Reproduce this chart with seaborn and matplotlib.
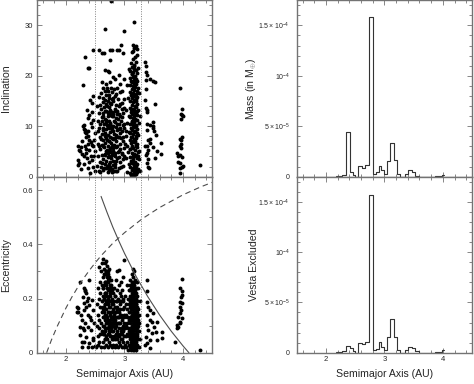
import numpy as np
import pandas as pd
import seaborn as sns
import matplotlib.pyplot as plt
from matplotlib.ticker import MultipleLocator, FixedLocator, FixedFormatter

sns.set_style('ticks')
plt.rcParams['font.family'] = ['Liberation Sans', 'DejaVu Sans']
plt.rcParams['mathtext.fontset'] = 'custom'
plt.rcParams['mathtext.rm'] = 'Liberation Sans'
plt.rcParams['mathtext.it'] = 'Liberation Sans:italic'

# ---- inclination vs semimajor axis (a [AU], i [deg]) ----
incl_points = [
    # inner group 2.2 - 2.5
    (2.20, 6.0), (2.21, 3.3), (2.20, 2.3), (2.22, 5.2), (2.24, 5.0), (2.26, 5.8), (2.27, 4.4),
    (2.29, 10.0), (2.30, 9.4), (2.31, 10.3), (2.30, 4.0), (2.32, 8.9), (2.33, 9.3), (2.33, 6.0),
    (2.34, 4.6), (2.34, 8.6), (2.35, 7.9), (2.36, 13.3), (2.37, 11.6), (2.37, 9.0), (2.37, 6.5),
    (2.38, 8.0), (2.38, 1.7), (2.39, 3.0), (2.40, 7.3), (2.40, 5.3), (2.41, 15.3), (2.41, 0.7),
    (2.42, 4.0), (2.43, 6.9), (2.44, 14.6), (2.44, 3.3), (2.44, 6.3), (2.45, 9.8), (2.46, 2.0),
    (2.46, 11.2), (2.47, 15.9), (2.47, 6.0), (2.48, 7.3), (2.48, 4.0), (2.49, 1.2), (2.50, 8.6),
    (2.50, 5.0), (2.29, 18.1), (2.33, 23.7), (2.37, 21.6), (2.40, 21.6), (2.47, 25.2), (2.23, 2.8),
    (2.25, 1.5), (2.28, 7.0), (2.31, 2.5), (2.36, 3.6), (2.42, 10.6), (2.45, 12.8), (2.39, 12.2),
    (2.35, 5.5),
    # 2.52 - 2.63
    (2.53, 14.0), (2.54, 11.0), (2.55, 9.0), (2.54, 6.5), (2.55, 4.0), (2.53, 2.2), (2.56, 1.2),
    (2.56, 15.8), (2.57, 25.2), (2.57, 12.6), (2.58, 7.8), (2.58, 3.0), (2.59, 10.4), (2.59, 5.5),
    (2.60, 16.5), (2.60, 13.5), (2.60, 2.0), (2.61, 8.5), (2.61, 6.2), (2.62, 24.6), (2.62, 11.8),
    (2.62, 4.3), (2.63, 14.8), (2.63, 9.6), (2.63, 1.4),
    # 2.64 - 2.80
    (2.64, 17.5), (2.64, 12.0), (2.64, 7.3), (2.64, 3.5), (2.65, 24.6), (2.65, 10.5), (2.65, 5.8),
    (2.66, 21.2), (2.66, 15.2), (2.66, 8.6), (2.66, 2.5), (2.67, 29.2), (2.67, 13.0), (2.67, 6.6),
    (2.67, 4.4), (2.68, 18.3), (2.68, 11.2), (2.68, 9.4), (2.68, 1.8), (2.69, 16.2), (2.69, 7.7),
    (2.69, 3.2), (2.70, 14.0), (2.70, 10.2), (2.70, 5.2), (2.71, 20.9), (2.71, 12.6), (2.71, 8.2),
    (2.71, 2.2), (2.72, 17.0), (2.72, 9.8), (2.72, 6.0), (2.72, 3.8), (2.73, 13.8), (2.73, 11.0),
    (2.73, 4.8), (2.74, 20.7), (2.74, 15.6), (2.74, 7.0), (2.74, 1.3), (2.75, 25.2), (2.75, 23.2),
    (2.75, 12.2), (2.75, 8.8), (2.75, 5.6), (2.76, 18.8), (2.76, 10.6), (2.76, 3.0), (2.77, 34.8),
    (2.77, 14.5), (2.77, 6.6), (2.78, 25.2), (2.78, 16.8), (2.78, 9.2), (2.78, 4.2), (2.79, 12.8),
    (2.79, 7.6), (2.79, 1.6), (2.80, 15.0), (2.80, 10.0), (2.80, 5.0),
    # 2.81 - 3.00
    (2.81, 19.8), (2.81, 12.0), (2.81, 3.2), (2.82, 8.4), (2.82, 6.2), (2.83, 16.0), (2.83, 13.4),
    (2.83, 2.0), (2.84, 19.3), (2.84, 10.8), (2.84, 4.6), (2.85, 7.0), (2.85, 1.2), (2.86, 14.2),
    (2.86, 11.6), (2.86, 5.8), (2.87, 25.1), (2.87, 17.6), (2.87, 9.2), (2.88, 3.6), (2.88, 13.0),
    (2.89, 7.8), (2.89, 15.4), (2.90, 20.2), (2.90, 10.4), (2.90, 5.0), (2.91, 25.1), (2.91, 12.4),
    (2.91, 1.8), (2.92, 8.6), (2.92, 16.8), (2.93, 18.4), (2.93, 6.4), (2.93, 3.0), (2.94, 26.2),
    (2.94, 11.0), (2.95, 14.6), (2.95, 4.4), (2.96, 9.0), (2.96, 17.0), (2.97, 7.0), (2.97, 2.2),
    (2.98, 24.6), (2.98, 12.6), (2.99, 19.4), (2.99, 5.6), (3.00, 28.8), (3.00, 10.4), (3.00, 15.4),
    # 3.01 - 3.08
    (3.02, 8.0), (3.02, 3.6), (3.03, 13.2), (3.04, 18.2), (3.04, 6.0), (3.05, 10.6), (3.05, 1.0),
    (3.06, 15.6), (3.06, 4.8), (3.07, 8.8), (3.07, 21.4), (3.08, 12.0), (3.08, 2.6),
    # dense core 3.09 - 3.24
    (3.09, 0.8), (3.09, 3.8), (3.09, 7.2), (3.09, 10.4), (3.09, 13.6), (3.09, 16.8), (3.09, 19.6),
    (3.10, 2.0), (3.10, 5.4), (3.10, 8.6), (3.10, 11.8), (3.10, 15.0), (3.10, 18.2), (3.10, 21.0),
    (3.11, 0.4), (3.11, 3.2), (3.11, 6.6), (3.11, 9.6), (3.11, 12.8), (3.11, 16.2), (3.11, 19.0),
    (3.11, 22.6), (3.12, 1.4), (3.12, 4.6), (3.12, 7.8), (3.12, 11.0), (3.12, 14.2), (3.12, 17.4),
    (3.12, 20.4), (3.12, 24.8), (3.13, 0.2), (3.13, 2.8), (3.13, 6.0), (3.13, 9.2), (3.13, 12.4),
    (3.13, 15.6), (3.13, 18.8), (3.13, 21.8), (3.14, 1.8), (3.14, 4.0), (3.14, 7.0), (3.14, 10.2),
    (3.14, 13.4), (3.14, 16.6), (3.14, 19.8), (3.14, 23.4), (3.14, 26.2), (3.15, 0.6), (3.15, 3.4),
    (3.15, 5.6), (3.15, 8.4), (3.15, 11.6), (3.15, 14.8), (3.15, 18.0), (3.15, 20.8), (3.15, 25.0),
    (3.16, 1.0), (3.16, 2.4), (3.16, 6.8), (3.16, 9.8), (3.16, 12.0), (3.16, 15.2), (3.16, 17.2),
    (3.16, 19.2), (3.16, 22.2), (3.17, 0.3), (3.17, 4.4), (3.17, 7.4), (3.17, 8.8), (3.17, 10.8),
    (3.17, 13.0), (3.17, 16.0), (3.17, 18.6), (3.17, 21.4), (3.17, 25.6), (3.17, 30.7),
    (3.18, 1.6), (3.18, 3.0), (3.18, 5.2), (3.18, 9.0), (3.18, 11.4), (3.18, 14.0), (3.18, 17.8),
    (3.18, 20.0), (3.18, 23.8), (3.19, 0.5), (3.19, 2.2), (3.19, 6.2), (3.19, 8.0), (3.19, 12.6),
    (3.19, 15.4), (3.19, 19.4), (3.19, 21.2), (3.19, 26.0), (3.20, 1.2), (3.20, 4.2), (3.20, 7.6),
    (3.20, 10.0), (3.20, 13.8), (3.20, 16.4), (3.20, 18.4), (3.20, 22.8), (3.21, 0.9), (3.21, 3.6),
    (3.21, 5.8), (3.21, 11.2), (3.21, 14.4), (3.21, 17.0), (3.21, 20.6), (3.21, 24.2), (3.22, 2.6),
    (3.22, 6.4), (3.22, 9.4), (3.22, 12.2), (3.22, 15.8), (3.22, 19.0), (3.22, 25.4), (3.23, 1.5),
    (3.23, 4.8), (3.23, 8.2), (3.23, 13.2), (3.23, 21.6), (3.24, 3.4), (3.24, 10.6), (3.24, 16.6),
    (3.25, 5.0), (3.26, 12.0), (3.26, 1.2),
    # outer group 3.33 - 3.65
    (3.35, 22.7), (3.36, 21.9), (3.37, 20.7), (3.38, 20.2), (3.36, 19.1), (3.43, 19.3), (3.49, 19.0),
    (3.52, 18.7), (3.36, 17.3), (3.35, 15.2), (3.36, 13.6), (3.38, 13.3), (3.38, 12.8), (3.52, 14.4),
    (3.38, 10.5), (3.43, 10.3), (3.48, 10.1), (3.49, 10.8), (3.48, 9.6), (3.38, 9.3), (3.53, 8.3),
    (3.44, 7.5), (3.35, 6.0), (3.38, 6.1), (3.48, 5.8), (3.40, 5.2), (3.38, 4.6), (3.37, 4.3),
    (3.62, 6.6), (3.63, 4.4), (3.52, 3.7), (3.40, 3.4), (3.38, 2.8), (3.40, 2.0), (3.42, 1.7),
    (3.41, 7.3), (3.44, 6.6), (3.50, 9.0), (3.55, 5.0),
    # Hilda group ~3.95
    (3.95, 17.6), (3.98, 13.4), (3.96, 12.5), (3.99, 12.3), (4.00, 12.0), (3.96, 11.5), (3.98, 7.8),
    (3.95, 7.5), (3.97, 7.2), (3.96, 6.5), (3.94, 6.1), (3.97, 5.6), (3.89, 4.6), (3.91, 4.0),
    (3.95, 4.3), (3.98, 3.9), (3.91, 2.9), (3.95, 2.7), (3.98, 2.0), (3.95, 1.7), (4.00, 2.2),
    (3.94, 0.8), (4.29, 2.3),
]

# more inclination points filling the crowded 2.55 - 3.25 AU region
incl_crowd = [
    (2.56, 6.0), (2.57, 9.6), (2.58, 14.2), (2.59, 1.0), (2.60, 7.4), (2.61, 11.0), (2.61, 18.8),
    (2.62, 2.8), (2.63, 6.0), (2.63, 12.6), (2.64, 9.2), (2.64, 15.6), (2.65, 1.8), (2.65, 13.8),
    (2.66, 4.2), (2.66, 11.4), (2.67, 8.0), (2.67, 17.0), (2.68, 5.0), (2.68, 14.4), (2.69, 10.8),
    (2.69, 13.0), (2.70, 2.0), (2.70, 7.2), (2.70, 17.6), (2.71, 4.6), (2.71, 10.0), (2.71, 15.0),
    (2.72, 12.0), (2.72, 1.0), (2.73, 7.0), (2.73, 16.2), (2.73, 2.6), (2.74, 9.6), (2.74, 12.8),
    (2.74, 4.0), (2.75, 10.4), (2.75, 14.6), (2.75, 2.0), (2.76, 5.0), (2.76, 7.8), (2.76, 13.2),
    (2.77, 3.6), (2.77, 10.0), (2.77, 17.6), (2.78, 6.0), (2.78, 12.0), (2.78, 1.0), (2.79, 9.6),
    (2.79, 4.6), (2.79, 15.4), (2.80, 2.4), (2.80, 7.4), (2.80, 12.4), (2.81, 5.6), (2.81, 9.0),
    (2.81, 15.6), (2.82, 1.2), (2.82, 11.0), (2.82, 17.4), (2.83, 4.0), (2.83, 7.6), (2.84, 13.0),
    (2.84, 2.6), (2.85, 9.8), (2.85, 16.4), (2.86, 3.2), (2.86, 8.2), (2.87, 6.0), (2.87, 12.4),
    (2.88, 10.4), (2.88, 1.2), (2.89, 4.8), (2.89, 11.4), (2.90, 7.8), (2.90, 14.0), (2.91, 3.8),
    (2.91, 9.4), (2.92, 5.4), (2.92, 12.0), (2.93, 9.6), (2.93, 14.4), (2.94, 2.0), (2.94, 7.6),
    (2.95, 11.8), (2.96, 4.6), (2.96, 13.4), (2.97, 10.2), (2.98, 3.4), (2.98, 7.8), (2.99, 9.6),
    (2.99, 13.6), (3.00, 4.0), (3.01, 6.4), (3.03, 9.0),
    (3.095, 5.5), (3.105, 13.4), (3.115, 7.9), (3.125, 16.0), (3.135, 10.8), (3.145, 3.0),
    (3.155, 13.2), (3.165, 4.0), (3.165, 11.0), (3.175, 2.0), (3.175, 15.0), (3.185, 7.0),
    (3.185, 12.6), (3.195, 4.0), (3.195, 10.2), (3.205, 6.0), (3.205, 15.0), (3.215, 8.6),
    (3.215, 13.0), (3.225, 4.0), (3.225, 17.6), (3.135, 20.4), (3.155, 22.0), (3.185, 19.0),
    (3.165, 18.2),
]

# ---- eccentricity vs semimajor axis ----
ecc_points = [
    # inner group
    (2.30, 0.238), (2.33, 0.226), (2.35, 0.220), (2.29, 0.207), (2.38, 0.201), (2.31, 0.183),
    (2.34, 0.170), (2.40, 0.176), (2.30, 0.158), (2.21, 0.164), (2.19, 0.152), (2.37, 0.140),
    (2.41, 0.133), (2.27, 0.121), (2.33, 0.109), (2.38, 0.096), (2.30, 0.084), (2.42, 0.084),
    (2.24, 0.065), (2.35, 0.059), (2.46, 0.053), (2.31, 0.041), (2.40, 0.034), (2.27, 0.020),
    (2.44, 0.022), (2.47, 0.047), (2.48, 0.109), (2.47, 0.158), (2.44, 0.195), (2.195, 0.170),
    (2.21, 0.152), (2.24, 0.096), (2.27, 0.041), (2.37, 0.022), (2.50, 0.025), (2.24, 0.26),
    (2.40, 0.27), (2.33, 0.23), (2.36, 0.19), (2.26, 0.14), (2.43, 0.12), (2.29, 0.09),
    # 2.52 - 2.62
    (2.52, 0.02), (2.53, 0.10), (2.53, 0.18), (2.54, 0.06), (2.54, 0.24), (2.55, 0.14), (2.55, 0.03),
    (2.56, 0.20), (2.56, 0.09), (2.57, 0.315), (2.57, 0.12), (2.57, 0.04), (2.58, 0.26), (2.58, 0.17),
    (2.59, 0.07), (2.59, 0.22), (2.60, 0.30), (2.60, 0.11), (2.60, 0.02), (2.61, 0.19), (2.61, 0.15),
    (2.62, 0.33), (2.62, 0.08), (2.62, 0.25),
    # 2.63 - 2.80
    (2.63, 0.04), (2.63, 0.13), (2.63, 0.21), (2.63, 0.28), (2.64, 0.07), (2.64, 0.17), (2.64, 0.24),
    (2.64, 0.345), (2.65, 0.02), (2.65, 0.10), (2.65, 0.15), (2.65, 0.20), (2.65, 0.31), (2.66, 0.05),
    (2.66, 0.12), (2.66, 0.18), (2.66, 0.26), (2.66, 0.33), (2.67, 0.08), (2.67, 0.14), (2.67, 0.22),
    (2.67, 0.29), (2.68, 0.03), (2.68, 0.11), (2.68, 0.19), (2.68, 0.25), (2.68, 0.34), (2.69, 0.06),
    (2.69, 0.16), (2.69, 0.21), (2.69, 0.30), (2.70, 0.09), (2.70, 0.13), (2.70, 0.24), (2.70, 0.32),
    (2.71, 0.02), (2.71, 0.12), (2.71, 0.18), (2.71, 0.27), (2.72, 0.07), (2.72, 0.15), (2.72, 0.20),
    (2.72, 0.29), (2.72, 0.26), (2.73, 0.04), (2.73, 0.10), (2.73, 0.23), (2.73, 0.31), (2.74, 0.08),
    (2.74, 0.17), (2.74, 0.21), (2.74, 0.28), (2.75, 0.03), (2.75, 0.12), (2.75, 0.14), (2.75, 0.25),
    (2.76, 0.06), (2.76, 0.10), (2.76, 0.19), (2.76, 0.22), (2.76, 0.08), (2.77, 0.09), (2.77, 0.15),
    (2.77, 0.23), (2.77, 0.27), (2.78, 0.02), (2.78, 0.11), (2.78, 0.18), (2.78, 0.24), (2.79, 0.05),
    (2.79, 0.13), (2.79, 0.20), (2.80, 0.08), (2.80, 0.16), (2.80, 0.22), (2.80, 0.12),
    # 2.81 - 3.00
    (2.81, 0.03), (2.81, 0.10), (2.81, 0.19), (2.82, 0.06), (2.82, 0.14), (2.82, 0.24), (2.83, 0.09),
    (2.83, 0.17), (2.83, 0.02), (2.84, 0.12), (2.84, 0.21), (2.84, 0.05), (2.85, 0.07), (2.85, 0.15),
    (2.85, 0.27), (2.86, 0.10), (2.86, 0.19), (2.86, 0.03), (2.87, 0.05), (2.87, 0.13), (2.87, 0.23),
    (2.88, 0.08), (2.88, 0.17), (2.88, 0.30), (2.89, 0.02), (2.89, 0.11), (2.89, 0.20), (2.90, 0.06),
    (2.90, 0.15), (2.90, 0.306), (2.90, 0.25), (2.91, 0.09), (2.91, 0.13), (2.91, 0.04), (2.92, 0.18),
    (2.92, 0.07), (2.92, 0.22), (2.93, 0.11), (2.93, 0.03), (2.93, 0.16), (2.94, 0.05), (2.94, 0.14),
    (2.94, 0.26), (2.95, 0.09), (2.95, 0.19), (2.95, 0.02), (2.96, 0.12), (2.96, 0.07), (2.96, 0.23),
    (2.97, 0.04), (2.97, 0.16), (2.97, 0.10), (2.98, 0.08), (2.98, 0.20), (2.98, 0.28), (2.99, 0.343),
    (2.99, 0.13), (2.99, 0.02), (3.00, 0.06), (3.00, 0.11), (3.00, 0.17),
    # 3.01 - 3.08
    (3.01, 0.09), (3.01, 0.03), (3.01, 0.21), (3.02, 0.14), (3.02, 0.06), (3.03, 0.18), (3.03, 0.10),
    (3.03, 0.02), (3.04, 0.07), (3.04, 0.25), (3.04, 0.13), (3.05, 0.04), (3.05, 0.16), (3.05, 0.11),
    (3.06, 0.09), (3.06, 0.20), (3.06, 0.01), (3.07, 0.12), (3.07, 0.06), (3.07, 0.23), (3.08, 0.03),
    (3.08, 0.15), (3.08, 0.18), (3.08, 0.08),
    # dense core 3.09 - 3.24
    (3.09, 0.02), (3.09, 0.05), (3.09, 0.09), (3.09, 0.13), (3.09, 0.17), (3.09, 0.21), (3.09, 0.25),
    (3.10, 0.03), (3.10, 0.07), (3.10, 0.11), (3.10, 0.15), (3.10, 0.19), (3.10, 0.23), (3.10, 0.27),
    (3.11, 0.01), (3.11, 0.04), (3.11, 0.08), (3.11, 0.12), (3.11, 0.16), (3.11, 0.20), (3.11, 0.24),
    (3.12, 0.02), (3.12, 0.06), (3.12, 0.10), (3.12, 0.14), (3.12, 0.18), (3.12, 0.22), (3.12, 0.26),
    (3.12, 0.29), (3.13, 0.03), (3.13, 0.05), (3.13, 0.09), (3.13, 0.13), (3.13, 0.17), (3.13, 0.21),
    (3.13, 0.25), (3.14, 0.01), (3.14, 0.04), (3.14, 0.07), (3.14, 0.11), (3.14, 0.15), (3.14, 0.19),
    (3.14, 0.23), (3.14, 0.28), (3.15, 0.02), (3.15, 0.06), (3.15, 0.08), (3.15, 0.12), (3.15, 0.16),
    (3.15, 0.20), (3.15, 0.24), (3.15, 0.31), (3.16, 0.03), (3.16, 0.05), (3.16, 0.10), (3.16, 0.14),
    (3.16, 0.18), (3.16, 0.22), (3.16, 0.26), (3.17, 0.01), (3.17, 0.04), (3.17, 0.07), (3.17, 0.09),
    (3.17, 0.13), (3.17, 0.17), (3.17, 0.21), (3.17, 0.25), (3.17, 0.30), (3.18, 0.02), (3.18, 0.06),
    (3.18, 0.11), (3.18, 0.15), (3.18, 0.19), (3.18, 0.23), (3.18, 0.27), (3.19, 0.03), (3.19, 0.05),
    (3.19, 0.08), (3.19, 0.12), (3.19, 0.16), (3.19, 0.20), (3.19, 0.24), (3.20, 0.01), (3.20, 0.04),
    (3.20, 0.10), (3.20, 0.14), (3.20, 0.18), (3.20, 0.22), (3.21, 0.02), (3.21, 0.07), (3.21, 0.11),
    (3.21, 0.15), (3.21, 0.19), (3.21, 0.26), (3.22, 0.03), (3.22, 0.06), (3.22, 0.09), (3.22, 0.13),
    (3.22, 0.17), (3.22, 0.21), (3.23, 0.05), (3.23, 0.12), (3.23, 0.16), (3.23, 0.24), (3.24, 0.02),
    (3.24, 0.08), (3.24, 0.14), (3.25, 0.11), (3.26, 0.05), (3.27, 0.19),
    # outer group
    (3.39, 0.268), (3.39, 0.226), (3.39, 0.189), (3.41, 0.170), (3.44, 0.158), (3.49, 0.146),
    (3.39, 0.140), (3.43, 0.121), (3.47, 0.115), (3.55, 0.115), (3.38, 0.102), (3.51, 0.096),
    (3.41, 0.084), (3.47, 0.072), (3.54, 0.078), (3.64, 0.078), (3.37, 0.059), (3.43, 0.047),
    (3.55, 0.047), (3.64, 0.053), (3.39, 0.034), (3.44, 0.016), (3.35, 0.028),
    # Hilda group
    (3.98, 0.271), (3.94, 0.238), (3.98, 0.226), (3.99, 0.214), (3.96, 0.207), (3.95, 0.189),
    (3.98, 0.183), (3.94, 0.170), (3.96, 0.158), (3.95, 0.146), (3.92, 0.131), (3.98, 0.128),
    (3.94, 0.115), (3.90, 0.102), (3.89, 0.090), (3.92, 0.096), (3.95, 0.109), (3.86, 0.041),
    (4.29, 0.010),
]

# more eccentricity points filling the crowded regions
ecc_crowd = [
    (2.625, 0.16), (2.635, 0.10), (2.635, 0.24), (2.645, 0.13), (2.645, 0.20), (2.645, 0.29),
    (2.655, 0.07), (2.655, 0.17), (2.655, 0.25), (2.665, 0.09), (2.665, 0.22), (2.665, 0.29),
    (2.675, 0.05), (2.675, 0.18), (2.675, 0.26), (2.685, 0.14), (2.685, 0.22), (2.685, 0.30),
    (2.695, 0.11), (2.695, 0.26), (2.705, 0.05), (2.705, 0.19), (2.705, 0.28), (2.715, 0.09),
    (2.715, 0.23), (2.715, 0.30), (2.725, 0.12), (2.725, 0.18), (2.735, 0.07), (2.735, 0.15),
    (2.735, 0.27), (2.745, 0.11), (2.745, 0.24), (2.755, 0.17), (2.755, 0.21), (2.765, 0.13),
    (2.765, 0.25), (2.775, 0.06), (2.775, 0.19), (2.785, 0.08), (2.785, 0.15), (2.795, 0.10),
    (2.795, 0.23), (2.805, 0.05), (2.805, 0.18), (2.815, 0.13), (2.825, 0.11), (2.835, 0.06),
    (2.835, 0.21), (2.845, 0.15), (2.855, 0.11), (2.865, 0.07), (2.865, 0.16), (2.875, 0.19),
    (2.885, 0.13), (2.895, 0.06), (2.905, 0.11), (2.915, 0.19), (2.925, 0.14), (2.935, 0.08),
    (2.945, 0.21), (2.955, 0.13), (2.965, 0.05), (2.975, 0.19), (2.985, 0.14), (2.995, 0.09),
    (3.095, 0.07), (3.105, 0.13), (3.115, 0.06), (3.125, 0.12), (3.135, 0.07), (3.145, 0.13),
    (3.155, 0.04), (3.165, 0.12), (3.175, 0.15), (3.185, 0.09), (3.195, 0.14), (3.205, 0.07),
    (3.215, 0.13), (3.225, 0.10), (3.135, 0.19), (3.165, 0.20), (3.195, 0.18), (3.145, 0.17),
    (3.115, 0.18), (3.185, 0.04),
]

# resonance gaps (dotted lines)
gap_a = [2.50, 3.28]

# perihelion curve q = 1.67 AU (dashed), aphelion curve Q = 4.1 AU (solid)
peri_a = [1.67, 1.75, 1.85, 2.0, 2.1, 2.2, 2.3, 2.4, 2.5, 2.6, 2.8, 3.0, 3.3, 3.6, 4.0, 4.3, 4.5]
peri_e = [0.0, 0.046, 0.097, 0.165, 0.205, 0.241, 0.274, 0.304, 0.332, 0.358, 0.404, 0.443,
          0.494, 0.536, 0.583, 0.612, 0.629]
aph_a = [2.6, 2.7, 2.8, 2.9, 3.0, 3.2, 3.4, 3.6, 3.8, 4.0, 4.1]
aph_e = [0.577, 0.519, 0.464, 0.414, 0.367, 0.281, 0.206, 0.139, 0.079, 0.025, 0.0]

# mass histogram (Earth masses) per semimajor axis bin
mass_edges = [2.18, 2.27, 2.35, 2.41, 2.46, 2.50, 2.55, 2.61, 2.67, 2.74, 2.81, 2.86, 2.90,
              2.95, 3.00, 3.05, 3.10, 3.16, 3.21, 3.27, 3.35, 3.41, 3.47, 3.53, 3.59, 3.87,
              3.98, 4.02]
mass_all = [0.10e-5, 0.17e-5, 4.47e-5, 0.46e-5, 0.17e-5, 0.0, 1.06e-5, 0.90e-5, 1.13e-5,
            15.8e-5, 0.26e-5, 0.43e-5, 1.09e-5, 0.63e-5, 0.30e-5, 1.56e-5, 3.34e-5, 1.62e-5,
            0.26e-5, 0.0, 0.26e-5, 0.63e-5, 0.43e-5, 0.10e-5, 0.0, 0.07e-5, 0.20e-5]
mass_novesta = [0.07e-5, 0.13e-5, 0.62e-5, 0.43e-5, 0.13e-5, 0.0, 1.00e-5, 0.90e-5, 1.10e-5,
                15.7e-5, 0.26e-5, 0.40e-5, 1.05e-5, 0.60e-5, 0.26e-5, 1.57e-5, 3.34e-5, 1.60e-5,
                0.23e-5, 0.0, 0.23e-5, 0.60e-5, 0.46e-5, 0.13e-5, 0.0, 0.10e-5, 0.26e-5]

mass_ticks = [0, 5e-5, 1e-4, 1.5e-4]
mass_ticklabels = ['0', r'$5\times10^{-5}$', r'$10^{-4}$', r'$1.5\times10^{-4}$']

df_inc = pd.DataFrame(incl_points + incl_crowd, columns=['a', 'inc'])
df_ecc = pd.DataFrame(ecc_points + ecc_crowd, columns=['a', 'ecc'])
edges = np.array(mass_edges)
centers = (edges[:-1] + edges[1:]) / 2

fig = plt.figure(figsize=(4.74, 3.84), dpi=100)
ax_inc = fig.add_axes([0.0774, 0.540, 0.3705, 0.4595])
ax_ecc = fig.add_axes([0.0774, 0.0815, 0.3705, 0.4585])
ax_m1 = fig.add_axes([0.626, 0.540, 0.370, 0.4595])
ax_m2 = fig.add_axes([0.626, 0.0815, 0.370, 0.4585])

frame_col = '0.45'
lab_fs = 7.6
tick_fs = 5.5
dot = 8


def style(ax, show_x):
    ax.set_xlim(1.5, 4.5)
    ax.xaxis.set_major_locator(FixedLocator([2, 3, 4]))
    ax.xaxis.set_minor_locator(MultipleLocator(0.2))
    ax.tick_params(which='both', direction='in', top=True, right=True, color=frame_col,
                   width=0.6, labelsize=tick_fs, pad=2.5)
    ax.tick_params(which='major', length=3.5)
    ax.tick_params(which='minor', length=2)
    for s in ax.spines.values():
        s.set_color(frame_col)
        s.set_linewidth(1.0)
    if show_x:
        ax.set_xlabel('Semimajor Axis (AU)', fontsize=lab_fs)
        ax.xaxis.set_label_coords(0.5, -0.095)
    else:
        ax.set_xlabel('')
        ax.tick_params(labelbottom=False)


# inclination
sns.scatterplot(data=df_inc, x='a', y='inc', ax=ax_inc, color='black', s=dot, linewidth=0)
ax_inc.set_ylim(0, 35)
ax_inc.yaxis.set_major_locator(MultipleLocator(10))
ax_inc.yaxis.set_minor_locator(MultipleLocator(2))
ax_inc.set_ylabel('Inclination', fontsize=lab_fs)
ax_inc.yaxis.set_label_coords(-0.145, 0.5)
style(ax_inc, False)

# eccentricity
sns.scatterplot(data=df_ecc, x='a', y='ecc', ax=ax_ecc, color='black', s=dot, linewidth=0)
sns.lineplot(x=peri_a, y=peri_e, ax=ax_ecc, color='0.3', lw=0.8, sort=False)
ax_ecc.lines[-1].set_dashes([5, 3.5])
sns.lineplot(x=aph_a, y=aph_e, ax=ax_ecc, color='0.3', lw=0.8, sort=False)
ax_ecc.set_ylim(0, 0.65)
ax_ecc.yaxis.set_major_locator(FixedLocator([0, 0.2, 0.4, 0.6]))
ax_ecc.yaxis.set_major_formatter(FixedFormatter(['0', '0.2', '0.4', '0.6']))
ax_ecc.yaxis.set_minor_locator(MultipleLocator(0.1))
ax_ecc.set_ylabel('Eccentricity', fontsize=lab_fs)
ax_ecc.yaxis.set_label_coords(-0.145, 0.5)
style(ax_ecc, True)

for ax in (ax_inc, ax_ecc):
    for g in gap_a:
        ax.axvline(g, color='0.5', lw=0.7, ls=(0, (1, 1.5)))

# mass histograms
for ax, vals, lab in ((ax_m1, mass_all, r'Mass (in M$_{\oplus}$)'),
                      (ax_m2, mass_novesta, 'Vesta Excluded')):
    hist_df = pd.DataFrame({'a': centers, 'mass': vals})
    sns.histplot(data=hist_df, x='a', weights='mass', bins=list(mass_edges), element='step',
                 fill=False, color='0.2', linewidth=0.8, ax=ax)
    ax.set_ylim(0, 1.75e-4)
    ax.yaxis.set_major_locator(FixedLocator(mass_ticks))
    ax.yaxis.set_major_formatter(FixedFormatter(mass_ticklabels))
    ax.yaxis.set_minor_locator(MultipleLocator(1e-5))
    ax.set_ylabel(lab, fontsize=lab_fs)
    ax.yaxis.set_label_coords(-0.215, 0.5)
    style(ax, ax is ax_m2)
    ax.tick_params(axis='y', labelsize=5, pad=5)

fig.savefig('out.png', dpi=100)
